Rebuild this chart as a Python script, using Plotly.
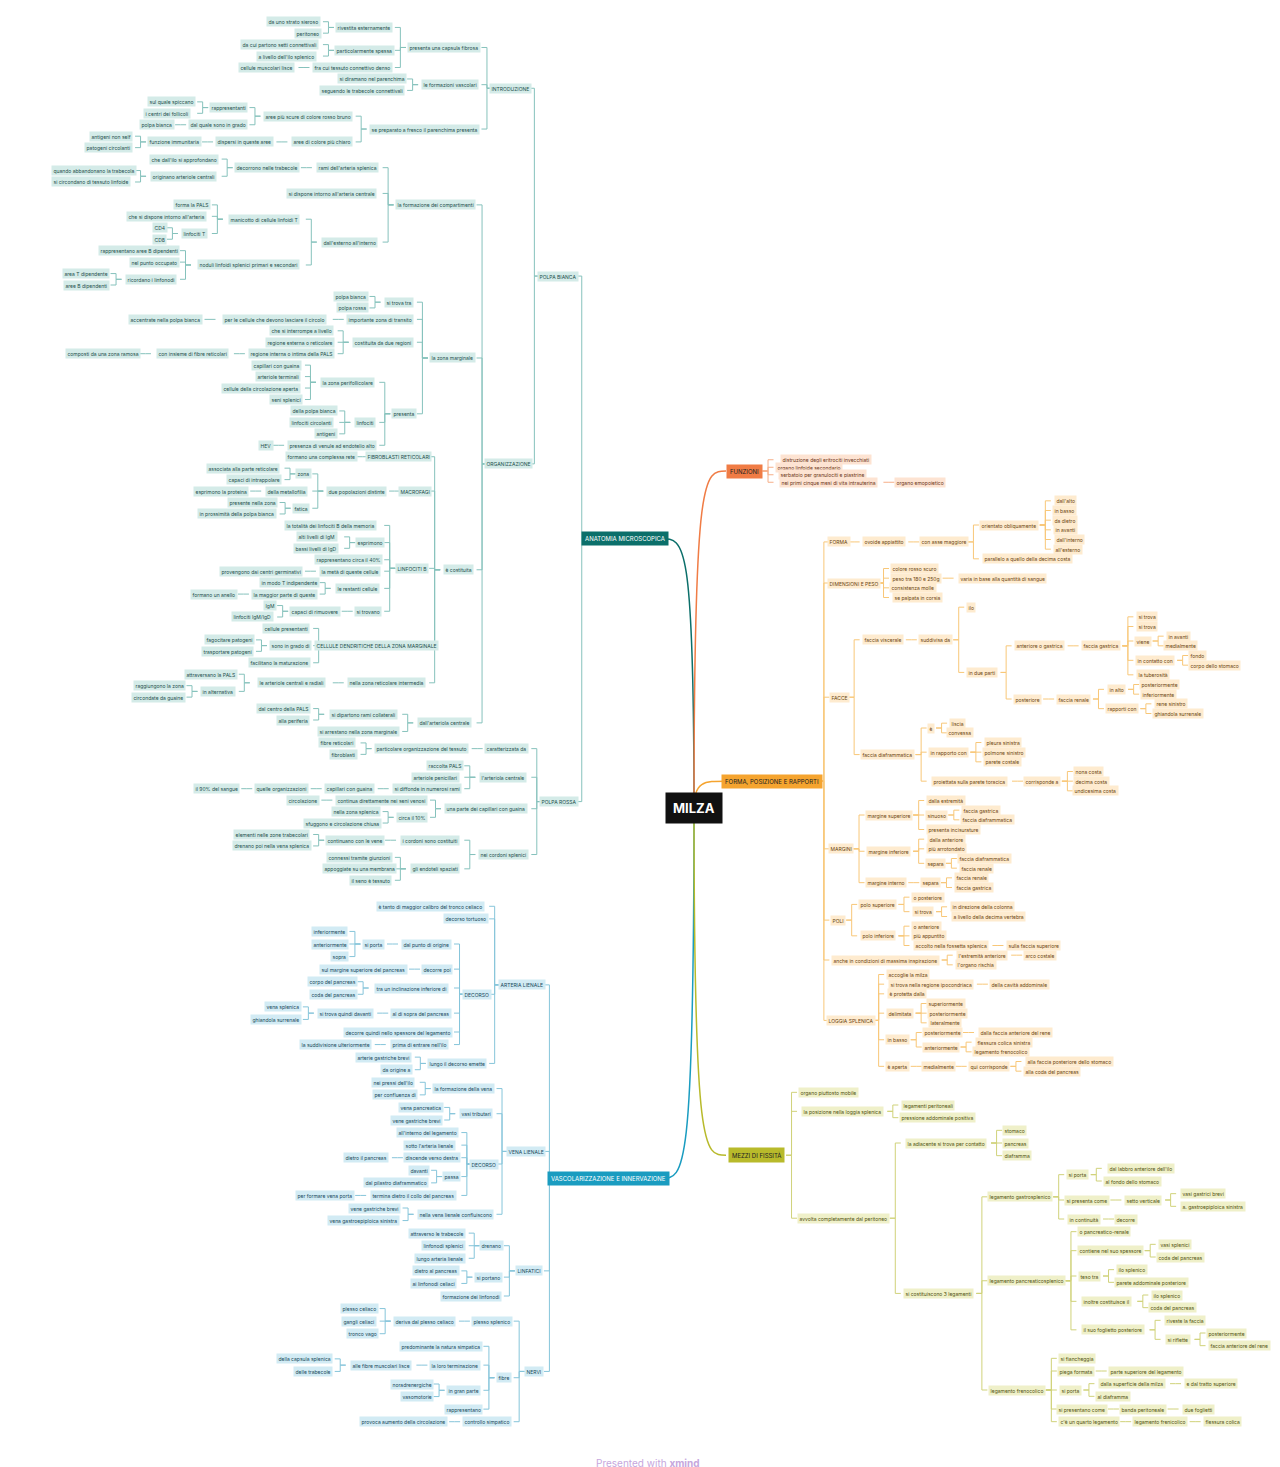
import plotly.graph_objects as go

# ---- content of the mind map (label, children) ----
anatomia = ("ANATOMIA MICROSCOPICA", [
    ("POLPA BIANCA", [
        ("INTRODUZIONE", [
            ("presenta una capsula fibrosa", [("rivestita esternamente", [("da uno strato sieroso", []), ("peritoneo", [])]),
                                              ("particolarmente spessa", [("da cui partono setti connettivali", []), ("a livello dell'ilo splenico", [])]),
                                              ("fra cui tessuto connettivo denso", [("cellule muscolari lisce", [])])]),
            ("le formazioni vascolari", [("si diramano nel parenchima", []), ("seguendo le trabecole connettivali", [])]),
            ("se preparato a fresco il parenchima presenta", [("aree più scure di colore rosso bruno", [("rappresentanti", [("sul quale spiccano", []), ("i centri dei follicoli", [])]),
                                                                                             ("dal quale sono in grado", [("polpa bianca", [])])]),
                                                             ("aree di colore più chiaro", [("dispersi in queste aree", [("funzione immunitaria", [("antigeni non self", []), ("patogeni circolanti", [])])])])]),
        ]),
        ("ORGANIZZAZIONE", [
            ("la formazione dei compartimenti", [
                ("rami dell'arteria splenica", [("decorrono nelle trabecole", [("che dall'ilo si approfondano", []), ("originano arteriole centrali", [("quando abbandonano la trabecola", []), ("si circondano di tessuto linfoide", [])])])]),
                ("si dispone intorno all'arteria centrale", []),
                ("dall'esterno all'interno", [
                    ("manicotto di cellule linfoidi T", [("forma la PALS", []), ("che si dispone intorno all'arteria", []), ("linfociti T", [("CD4", []), ("CD8", [])])]),
                    ("noduli linfoidi splenici primari e secondari", [("rappresentano aree B dipendenti", []), ("nel punto occupato", []), ("ricordano i linfonodi", [("area T dipendente", []), ("aree B dipendenti", [])])]),
                ]),
            ]),
            ("la zona marginale", [
                ("si trova tra", [("polpa bianca", []), ("polpa rossa", [])]),
                ("importante zona di transito", [("per le cellule che devono lasciare il circolo", [("accentrate nella polpa bianca", [])])]),
                ("costituita da due regioni", [("che si interrompe a livello", []), ("regione esterna o reticolare", []), ("regione interna o intima della PALS", [("con insieme di fibre reticolari", [("composti da una zona ramosa", [])])])]),
                ("presenta", [("la zona perifollicolare", [("capillari con guaina", []), ("arteriole terminali", []), ("cellule della circolazione aperta", []), ("seni splenici", [])]),
                              ("linfociti", [("della polpa bianca", []), ("linfociti circolanti", []), ("antigeni", [])]),
                              ("presenza di venule ad endotelio alto", [("HEV", [])])]),
            ]),
            ("è costituita", [
                ("FIBROBLASTI RETICOLARI", [("formano una complessa rete", [])]),
                ("MACROFAGI", [("due popolazioni distinte", [("zona", [("associata alla parte reticolare", []), ("capaci di intrappolare", [])]), ("della metallofilia", [("esprimono la proteina", [])]), ("fatica", [("presente nella zona", []), ("in prossimità della polpa bianca", [])])])]),
                ("LINFOCITI B", [("la totalità dei linfociti B della memoria", []), ("esprimono", [("alti livelli di IgM", []), ("bassi livelli di IgD", [])]), ("rappresentano circa il 40%", []), ("la metà di queste cellule", [("provengono dai centri germinativi", [])]),
                                 ("le restanti cellule", [("in modo T indipendente", []), ("la maggior parte di queste", [("formano un anello", [])])]), ("si trovano", [("capaci di rimuovere", [("IgM", []), ("linfociti IgM/IgD", [])])])]),
                ("CELLULE DENDRITICHE DELLA ZONA MARGINALE", [("cellule presentanti", []), ("sono in grado di", [("fagocitare patogeni", []), ("trasportare patogeni", [])]), ("facilitano la maturazione", [])]),
                ("nella zona reticolare intermedia", [("le arteriole centrali e radiali", [("attraversano la PALS", []), ("in alternativa", [("raggiungono la zona", []), ("circondate da guaine", [])])])]),
            ]),
            ("dall'arteriola centrale", [("si dipartono rami collaterali", [("dal centro della PALS", []), ("alla periferia", [])]), ("si arrestano nella zona marginale", [])]),
        ]),
    ]),
    ("POLPA ROSSA", [
        ("caratterizzata da", [("particolare organizzazione del tessuto", [("fibre reticolari", []), ("fibroblasti", [])])]),
        ("l'arteriola centrale", [("raccolta PALS", []), ("arteriole penicillari", []), ("si diffonde in numerosi rami", [("capillari con guaina", [("quelle organizzazioni", [("il 90% del sangue", [])])])])]),
        ("una parte dei capillari con guaina", [("continua direttamente nei seni venosi", [("circolazione", [])]), ("circa il 10%", [("nella zona splenica", []), ("sfuggono e circolazione chiusa", [])])]),
        ("nei cordoni splenici", [("i cordoni sono costituiti", [("continuano con le vene", [("elementi nelle zone trabecolari", []), ("drenano poi nella vena splenica", [])])]), ("gli endoteli spaziati", [("connessi tramite giunzioni", []), ("appoggiate su una membrana", []), ("il seno è tessuto", [])])]),
    ]),
])

vascolar = ("VASCOLARIZZAZIONE E INNERVAZIONE", [
    ("ARTERIA LIENALE", [
        ("è tanto di maggior calibro del tronco celiaco", []),
        ("decorso tortuoso", []),
        ("DECORSO", [("dal punto di origine", [("si porta", [("inferiormente", []), ("anteriormente", []), ("sopra", [])])]), ("decorre poi", [("sul margine superiore del pancreas", [])]),
                     ("tra un inclinazione inferiore di", [("corpo del pancreas", []), ("coda del pancreas", [])]), ("al di sopra del pancreas", [("si trova quindi davanti", [("vena splenica", []), ("ghiandola surrenale", [])])]),
                     ("decorre quindi nello spessore del legamento", []), ("prima di entrare nell'ilo", [("la suddivisione ulteriormente", [])])]),
        ("lungo il decorso emette", [("arterie gastriche brevi", []), ("da origine a", [])]),
    ]),
    ("VENA LIENALE", [("la formazione della vena", [("nei pressi dell'ilo", []), ("per confluenza di", [])]), ("vasi tributari", [("vena pancreatica", []), ("vene gastriche brevi", [])]),
                      ("DECORSO", [("all'interno del legamento", []), ("sotto l'arteria lienale", []), ("discende verso destra", [("dietro il pancreas", [])]), ("passa", [("davanti", []), ("dal pilastro diaframmatico", [])]), ("termina dietro il collo del pancreas", [("per formare vena porta", [])])]),
                      ("nella vena lienale confluiscono", [("vene gastriche brevi", []), ("vena gastroepiploica sinistra", [])])]),
    ("LINFATICI", [("drenano", [("attraverso le trabecole", []), ("linfonodi splenici", []), ("lungo arteria lienale", [])]), ("si portano", [("dietro al pancreas", []), ("ai linfonodi celiaci", [])]), ("formazione dei linfonodi", [])]),
    ("NERVI", [("plesso splenico", [("deriva dal plesso celiaco", [("plesso celiaco", []), ("gangli celiaci", []), ("tronco vago", [])])]),
               ("fibre", [("predominante la natura simpatica", []), ("la loro terminazione", [("alle fibre muscolari lisce", [("della capsula splenica", []), ("delle trabecole", [])])]), ("in gran parte", [("noradrenergiche", []), ("vasomotorie", [])]), ("rappresentano", [])]),
               ("controllo simpatico", [("provoca aumento della circolazione", [])])]),
])

funzioni = ("FUNZIONI", [
    ("distruzione degli eritrociti invecchiati", []),
    ("organo linfoide secondario", []),
    ("serbatoio per granulociti e piastrine", []),
    ("nei primi cinque mesi di vita intrauterina", [("organo emopoietico", [])]),
])

forma = ("FORMA, POSIZIONE E RAPPORTI", [
    ("FORMA", [("ovoide appiattito", [("con asse maggiore", [("orientato obliquamente", [("dall'alto", []), ("in basso", []), ("da dietro", []), ("in avanti", []), ("dall'interno", []), ("all'esterno", [])]), ("parallelo a quello della decima costa", [])])])]),
    ("DIMENSIONI E PESO", [("colore rosso scuro", []), ("peso tra 180 e 250g", [("varia in base alla quantità di sangue", [])]), ("consistenza molle", []), ("se palpata in corsia", [])]),
    ("FACCE", [
        ("faccia viscerale", [("suddivisa da", [("ilo", []), ("in due parti", [("anteriore o gastrica", [("faccia gastrica", [("si trova", []), ("si trova", []), ("viene", [("in avanti", []), ("medialmente", [])]), ("in contatto con", [("fondo", []), ("corpo dello stomaco", [])]), ("la tuberosità", [])])]), ("posteriore", [("faccia renale", [("in alto", [("posteriormente", []), ("inferiormente", [])]), ("rapporti con", [("rene sinistro", []), ("ghiandola surrenale", [])])])])])])]),
        ("faccia diaframmatica", [("è", [("liscia", []), ("convessa", [])]), ("in rapporto con", [("pleura sinistra", []), ("polmone sinistro", []), ("parete costale", [])]), ("proiettata sulla parete toracica", [("corrisponde a", [("nona costa", []), ("decima costa", []), ("undicesima costa", [])])])]),
    ]),
    ("MARGINI", [("margine superiore", [("dalla estremità", []), ("sinuoso", [("faccia gastrica", []), ("faccia diaframmatica", [])]), ("presenta incisurature", [])]),
                 ("margine inferiore", [("dalla anteriore", []), ("più arrotondato", []), ("separa", [("faccia diaframmatica", []), ("faccia renale", [])])]),
                 ("margine interno", [("separa", [("faccia renale", []), ("faccia gastrica", [])])])]),
    ("POLI", [("polo superiore", [("o posteriore", []), ("si trova", [("in direzione della colonna", []), ("a livello della decima vertebra", [])])]), ("polo inferiore", [("o anteriore", []), ("più appuntito", []), ("accolto nella fossetta splenica", [("sulla faccia superiore", [])])])]),
    ("anche in condizioni di massima inspirazione", [("l'estremità anteriore", [("arco costale", [])]), ("l'organo rischia", [])]),
    ("LOGGIA SPLENICA", [("accoglie la milza", []), ("si trova nella regione ipocondriaca", [("della cavità addominale", [])]), ("è protetta dalla", []),
                         ("delimitata", [("superiormente", []), ("posteriormente", []), ("lateralmente", [])]), ("in basso", [("posteriormente", [("dalla faccia anteriore del rene", [])]), ("anteriormente", [("flessura colica sinistra", []), ("legamento frenocolico", [])])]), ("è aperta", [("medialmente", [("qui corrisponde", [("alla faccia posteriore dello stomaco", []), ("alla coda del pancreas", [])])])])]),
])

mezzi = ("MEZZI DI FISSITÀ", [
    ("organo piuttosto mobile", []),
    ("la posizione nella loggia splenica", [("legamenti peritoneali", []), ("pressione addominale positiva", [])]),
    ("avvolta completamente dal peritoneo", [
        ("la adiacente si trova per contatto", [("stomaco", []), ("pancreas", []), ("diaframma", [])]),
        ("si costituiscono 3 legamenti", [
            ("legamento gastrosplenico", [("si porta", [("dal labbro anteriore dell'ilo", []), ("al fondo dello stomaco", [])]), ("si presenta come", [("setto verticale", [("vasi gastrici brevi", []), ("a. gastroepiploica sinistra", [])])]), ("in continuità", [("decorre", [])])]),
            ("legamento pancreaticosplenico", [("o pancreatico-renale", []), ("contiene nel suo spessore", [("vasi splenici", []), ("coda del pancreas", [])]), ("teso tra", [("ilo splenico", []), ("parete addominale posteriore", [])]), ("inoltre costituisce il", [("ilo splenico", []), ("coda del pancreas", [])]), ("il suo foglietto posteriore", [("riveste la faccia", []), ("si riflette", [("posteriormente", []), ("faccia anteriore del rene", [])])])]),
            ("legamento frenocolico", [("si fiancheggia", []), ("piega formata", [("parte superiore del legamento", [])]), ("si porta", [("dalla superficie della milza", [("e dal tratto superiore", [])]), ("al diaframma", [])]), ("si presentano come", [("banda peritoneale", [("due foglietti", [])])]),
                                       ("c'è un quarto legamento", [("legamento frenicolico", [("flessura colica", [])])])]),
        ]),
    ]),
])

left_branches = [(anatomia, 8, 878), (vascolar, 892, 1420)]
right_branches = [(funzioni, 448, 478), (forma, 488, 1068), (mezzi, 1078, 1420)]

themes = {
    "ANATOMIA MICROSCOPICA": ("#0b6f6a", "#d4ebe8", "#86c2bc", "#1e4f4c"),
    "VASCOLARIZZAZIONE E INNERVAZIONE": ("#1a9cc0", "#d2ebf4", "#86c5da", "#17485a"),
    "FUNZIONI": ("#f07c45", "#fde3d2", "#f6ae88", "#6b3418"),
    "FORMA, POSIZIONE E RAPPORTI": ("#f5a42f", "#feebcf", "#f8c778", "#6b4510"),
    "MEZZI DI FISSITÀ": ("#b8ba2b", "#eff0c9", "#d0d27a", "#50510f"),
}

ROOT_X, ROOT_Y = 686, 800
FS = 5
CW = 2.45  # approx char width at FS


def tw(t, fs=FS):
    return len(t) * CW * fs / 5 + 7


def leaves(n):
    return 1 if not n[1] else sum(leaves(c) for c in n[1])


def place(node, y0, y1, depth):
    lab, kids = node
    if not kids:
        return [lab, depth, (y0 + y1) / 2, []]
    tot = leaves(node)
    cur = y0
    rec = [lab, depth, 0, []]
    for c in kids:
        h = (y1 - y0) * leaves(c) / tot
        rec[3].append(place(c, cur, cur + h, depth + 1))
        cur += h
    rec[2] = (rec[3][0][2] + rec[3][-1][2]) / 2
    return rec


fig = go.Figure()
shapes, annos = [], []


def draw(rec, x_edge, side, theme):
    lab, depth, y, kids = rec
    main, light, line, txt = theme
    if depth == 0:
        w = tw(lab, 6) + 6
        bg, fc, fs = main, "white" if main in ("#0b6f6a", "#1a9cc0") else "#222", 6
    else:
        w = tw(lab)
        bg, fc, fs = light, txt, FS
    x0 = x_edge if side > 0 else x_edge - w
    x1 = x0 + w
    annos.append(dict(x=(x0 + x1) / 2, y=y, text=lab, showarrow=False, bgcolor=bg,
                      font=dict(size=fs, color=fc, family="Inter"), borderpad=1.5 if depth else 3,
                      xanchor="center", yanchor="middle"))
    out_edge = x1 if side > 0 else x0
    gap = 11
    for k in kids:
        cx = out_edge + side * gap
        mx = out_edge + side * gap / 2
        shapes.append(dict(type="path", path=f"M{out_edge},{y} L{mx},{y} L{mx},{k[2]} L{cx},{k[2]}",
                           line=dict(color=line, width=1)))
        draw(k, cx, side, theme)


for branches, side in [(left_branches, -1), (right_branches, 1)]:
    for node, y0, y1 in branches:
        rec = place(node, y0, y1, 0)
        theme = themes[node[0]]
        bx = ROOT_X + side * 32
        shapes.append(dict(type="path",
                           path=f"M{ROOT_X},{ROOT_Y} C{ROOT_X},{rec[2]} {ROOT_X + side * 10},{rec[2]} {bx},{rec[2]}",
                           line=dict(color=theme[0], width=1.5)))
        draw(rec, bx, side, theme)

annos.append(dict(x=ROOT_X, y=ROOT_Y, text="<b>MILZA</b>", showarrow=False, bgcolor="#111111",
                  font=dict(size=13, color="white", family="Inter"), borderpad=7))
annos.append(dict(x=640, y=1455, text="Presented with <b>xmind</b>", showarrow=False,
                  font=dict(size=10, color="#c6a7dd", family="Inter")))

fig.update_layout(width=1280, height=1467, margin=dict(l=0, r=0, t=0, b=0),
                  plot_bgcolor="white", paper_bgcolor="white", shapes=shapes, annotations=annos,
                  xaxis=dict(range=[0, 1280], visible=False, fixedrange=True),
                  yaxis=dict(range=[1467, 0], visible=False, fixedrange=True))
fig.write_html("out.html")
